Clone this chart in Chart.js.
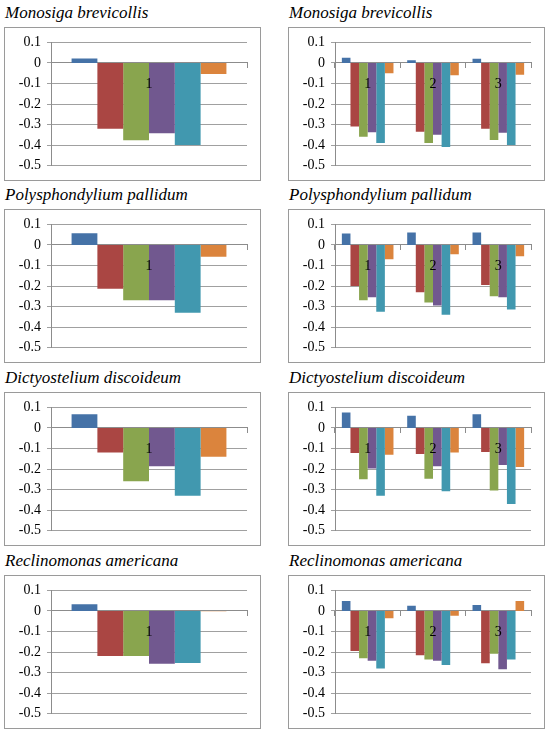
<!DOCTYPE html>
<html>
<head>
<meta charset="utf-8">
<script src="https://cdn.jsdelivr.net/npm/chart.js@4.4.1/dist/chart.umd.min.js"></script>
</head>
<body style="margin:0;background:#fff;width:552px;height:735px;position:relative;overflow:hidden">
<script>
// series colours (Excel 2007 style)
const seriesColors = ['#4572A7', '#AA4643', '#89A54E', '#71588F', '#4198AF', '#DB843D'];

const singleLabels = ['1'];
const tripleLabels = ['1', '2', '3'];

const yTicksMin = -0.5;
const yTicksMax = 0.1;

// one group of six bars
const monosigaOne = [0.022, -0.32, -0.376, -0.342, -0.40, -0.054];
const polyOne = [0.057, -0.214, -0.27, -0.27, -0.33, -0.057];
const dictyOne = [0.067, -0.12, -0.26, -0.187, -0.33, -0.14];
const reclinoOne = [0.033, -0.22, -0.22, -0.257, -0.254, -0.002];

// three groups, one row per group
const monosigaThree = [
    [0.025, -0.31, -0.36, -0.338, -0.39, -0.05],
    [0.013, -0.335, -0.39, -0.35, -0.41, -0.06],
    [0.02, -0.32, -0.375, -0.34, -0.40, -0.057]
];
const polyThree = [
    [0.056, -0.20, -0.27, -0.255, -0.325, -0.07],
    [0.061, -0.23, -0.28, -0.295, -0.34, -0.045],
    [0.06, -0.195, -0.25, -0.255, -0.315, -0.055]
];
const dictyThree = [
    [0.075, -0.122, -0.25, -0.198, -0.33, -0.13],
    [0.059, -0.127, -0.248, -0.186, -0.308, -0.12],
    [0.067, -0.117, -0.305, -0.18, -0.37, -0.19]
];
const reclinoThree = [
    [0.048, -0.195, -0.23, -0.243, -0.28, -0.036],
    [0.025, -0.216, -0.236, -0.243, -0.263, -0.024],
    [0.029, -0.255, -0.208, -0.284, -0.236, 0.048]
];

const titles = ['Monosiga brevicollis', 'Polysphondylium pallidum', 'Dictyostelium discoideum', 'Reclinomonas americana'];
const singles = [monosigaOne, polyOne, dictyOne, reclinoOne];
const triples = [monosigaThree, polyThree, dictyThree, reclinoThree];

const rowTops = [27, 209, 392, 575];
const colLefts = [4, 288];

Chart.defaults.font.family = 'Liberation Serif';
Chart.defaults.font.size = 14;
Chart.defaults.color = '#000';

function makePanel(left, top, title, labels, rows) {
    var t = document.createElement('div');
    t.style.position = 'absolute';
    t.style.left = (left + 1) + 'px';
    t.style.top = (top - 24) + 'px';
    t.style.fontFamily = 'Liberation Serif';
    t.style.fontStyle = 'italic';
    t.style.fontSize = '17px';
    t.style.lineHeight = '20px';
    t.style.whiteSpace = 'nowrap';
    t.textContent = title;
    document.body.appendChild(t);

    var box = document.createElement('div');
    box.style.position = 'absolute';
    box.style.left = left + 'px';
    box.style.top = top + 'px';
    box.style.width = '255px';
    box.style.height = '152px';
    box.style.border = '1px solid #9a9a9a';
    var canvas = document.createElement('canvas');
    canvas.width = 255;
    canvas.height = 152;
    canvas.style.display = 'block';
    box.appendChild(canvas);
    document.body.appendChild(box);

    let datasets = seriesColors.map((c, s) => {
        return {
            data: rows.map(r => r[s]),
            backgroundColor: c,
            borderWidth: 0
        };
    });

    new Chart(canvas.getContext('2d'), {
        type: 'bar',
        data: { labels: labels, datasets: datasets },
        options: {
            responsive: false,
            animation: false,
            events: [],
            categoryPercentage: 0.79,
            barPercentage: 1,
            layout: { padding: { top: 11, right: 13, bottom: 13, left: 0 } },
            plugins: { legend: { display: false }, tooltip: { enabled: false } },
            scales: {
                x: {
                    position: { y: 0 },
                    grid: { drawOnChartArea: false, tickLength: 5, color: '#8c8c8c' },
                    border: { color: '#8c8c8c' },
                    ticks: { padding: 8, z: 1, maxRotation: 0 }
                },
                y: {
                    min: yTicksMin,
                    max: yTicksMax,
                    afterFit: s => { s.width = 46; },
                    grid: { color: '#a0a0a0', tickLength: 4 },
                    border: { color: '#8c8c8c' },
                    ticks: {
                        stepSize: 0.1,
                        padding: 6,
                        callback: v => String(Math.round(v * 10) / 10)
                    }
                }
            }
        }
    });
}

for (var i = 0; i < 4; i++) {
    makePanel(colLefts[0], rowTops[i], titles[i], singleLabels, [singles[i]]);
    makePanel(colLefts[1], rowTops[i], titles[i], tripleLabels, triples[i]);
}
</script>
</body>
</html>
